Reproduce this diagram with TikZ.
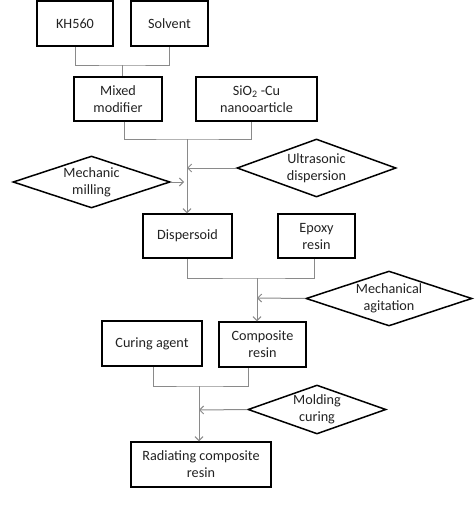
\documentclass[tikz,border=0pt]{standalone}
\usepackage{fontspec}
\setmainfont{Carlito}
\usetikzlibrary{shapes.geometric,arrows.meta}
\definecolor{conn}{HTML}{8A8A8A}
\definecolor{txt}{HTML}{222222}
\begin{document}
\begin{tikzpicture}[x=1pt,y=-1pt,
  every node/.style={font=\fontsize{14.2}{17}\selectfont, text=txt, align=center, inner sep=0pt},
  box/.style={draw=black, line width=1.5pt, rectangle},
  dia/.style={draw=black, line width=1.5pt, diamond, aspect=2.7},
  link/.style={draw=conn, line width=1pt},
  arr/.style={link, -{Straight Barb[length=4pt,width=8pt]}}]
\useasboundingbox (0,0) rectangle (474,514);
% boxes
\node[box, minimum width=76pt, minimum height=45pt] (kh) at (75,23.5) {KH560};
\node[box, minimum width=77pt, minimum height=45pt] (solv) at (169.5,23.5) {Solvent};
\node[box, minimum width=88pt, minimum height=44pt] (mix) at (118,99) {Mixed\\modifier};
\node[box, minimum width=121pt, minimum height=44pt] (sio) at (256.5,99) {SiO\textsubscript{2} -Cu\\nanooarticle};
\node[box, minimum width=89pt, minimum height=44pt] (disp) at (187.5,236) {Dispersoid};
\node[box, minimum width=77pt, minimum height=44pt] (epoxy) at (316.5,236) {Epoxy\\resin};
\node[box, minimum width=100pt, minimum height=45pt] (cure) at (152,343.5) {Curing agent};
\node[box, minimum width=87pt, minimum height=45pt] (comp) at (262.5,344.5) {Composite\\resin};
\node[box, minimum width=140pt, minimum height=45pt] (rad) at (201,464.5) {Radiating composite\\resin};
% diamonds
\node[dia, minimum width=157pt, minimum height=52pt] (mill) at (91.5,182) {Mechanic\\milling};
\node[dia, minimum width=159pt, minimum height=58pt] (ultra) at (316.5,168) {Ultrasonic\\dispersion};
\node[dia, minimum width=166pt, minimum height=55pt] (agit) at (389,298.5) {Mechanical\\agitation};
\node[dia, minimum width=138pt, minimum height=49pt] (mold) at (317,409.5) {Molding\\curing};
% junctions
\coordinate (j1) at (122,65);
\coordinate (j2) at (187,139);
\coordinate (j3) at (257,278);
\coordinate (j4) at (199,386);
\coordinate (e2) at (187,168);
\coordinate (m2) at (184,182);
\coordinate (e3) at (257,298);
\coordinate (e4) at (199,410);
% connectors
\draw[link] (kh.south) |- (j1) -| (solv.south);
\draw[link] (j1) -- (j1 |- mix.north);
\draw[link] ([xshift=6pt]mix.south) |- (j2) -| ([xshift=-5.5pt]sio.south);
\draw[arr] (j2) -- (j2 |- disp.north);
\draw[arr] (ultra.west) -- (e2);
\draw[arr] (mill.east) -- (m2);
\draw[link] ([xshift=-0.5pt]disp.south) |- (j3) -| ([xshift=-2.5pt]epoxy.south);
\draw[arr] (j3) -- (j3 |- comp.north);
\draw[arr] (agit.west) -- (e3);
\draw[link] ([xshift=1pt]cure.south) |- (j4) -| ([xshift=-14.5pt]comp.south);
\draw[arr] (j4) -- (j4 |- rad.north);
\draw[arr] (mold.west) -- (e4);
\end{tikzpicture}
\end{document}
